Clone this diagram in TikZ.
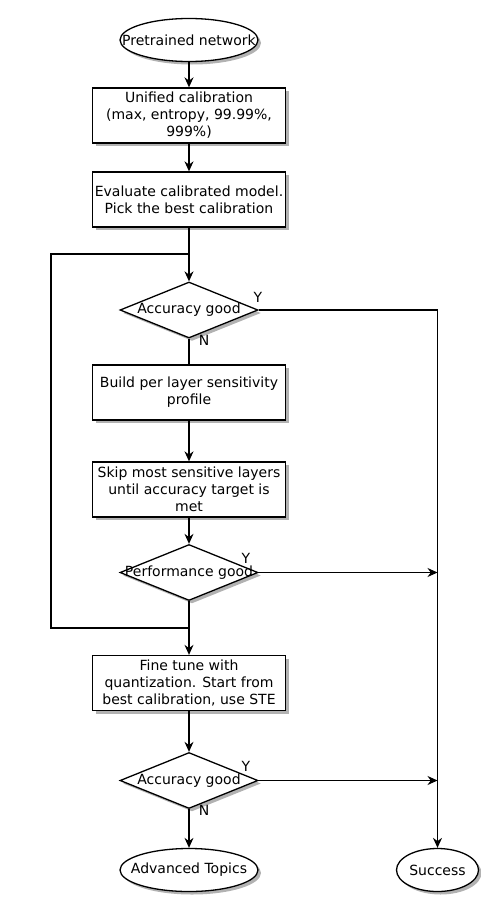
\documentclass[tikz,border=0pt]{standalone}
\usepackage{fontspec}
\setmainfont{DejaVu Sans}
\usetikzlibrary{shapes.geometric,shadows,arrows.meta}

\begin{document}
\begin{tikzpicture}[x=1pt,y=-1pt, line width=1.3pt, >={Stealth[length=10pt,width=9pt]},
  font=\fontsize{14}{17}\selectfont,
  shadowed/.style={drop shadow={shadow xshift=3pt,shadow yshift=-3pt,fill=black!30,opacity=1}},
  box/.style={rectangle,draw,fill=white,shadowed,minimum width=193pt,minimum height=55pt,align=center,inner sep=1pt},
  term/.style={ellipse,draw,fill=white,shadowed,minimum height=43pt,inner sep=0pt},
  test/.style={diamond,draw,fill=white,shadowed,minimum width=138pt,minimum height=56pt,aspect=2.46,inner sep=0pt},
  yn/.style={inner sep=0pt}]
\useasboundingbox (0,0) rectangle (480,910);
\node (start) at (189,40) [term,minimum width=138pt,label=center:Pretrained network] {};
\node (calib) at (189,115.5) [box] {Unified calibration\\(max, entropy, 99.99\%,\\999\%)};
\node (eval) at (189,199.5) [box] {Evaluate calibrated model.\\Pick the best calibration};
\node (acc1) at (189,310) [test,label=center:Accuracy good] {};
\node (prof) at (189,392.5) [box] {Build per layer sensitivity\\profile};
\node (skip) at (189,489.5) [box] {Skip most sensitive layers\\until accuracy target is\\met};
\node (perf) at (189,572.5) [test,label=center:Performance good] {};
\node (tune) at (189,683) [box] {Fine tune with\\quantization. Start from\\best calibration, use STE};
\node (acc2) at (189,780.5) [test,label=center:Accuracy good] {};
\node (adv) at (189,870) [term,minimum width=138pt,label=center:Advanced Topics] {};
\node (succ) at (437.5,870) [term,minimum width=82pt,label=center:Success] {};
% loop corners
\coordinate (lt) at (51,254);
\coordinate (lb) at (51,628);
\coordinate (rt) at (437.5,310);
% Y / N marks
\node (y1) at (258,297) [yn] {Y};
\node (n1) at (204,340) [yn] {N};
\node (y2) at (246,558) [yn] {Y};
\node (y3) at (246,766) [yn] {Y};
\node (n3) at (204,810) [yn] {N};
\draw[->] (start) -- (calib);
\draw[->] (calib) -- (eval);
\draw[->] (eval) -- (acc1);
\draw (acc1) -- (prof);
\draw[->] (prof) -- (skip);
\draw[->] (skip) -- (perf);
\draw[->] (perf) -- (tune);
\draw[->] (tune) -- (acc2);
\draw[->] (acc2) -- (adv);
\draw (perf.south |- lb) -- (lb) -- (lt) -- (eval.south |- lt);
\draw[->] (acc1.east) -- (rt) -- (succ);
\draw[->] (perf.east) -- (perf.east -| rt);
\draw[->] (acc2.east) -- (acc2.east -| rt);
\end{tikzpicture}
\end{document}
